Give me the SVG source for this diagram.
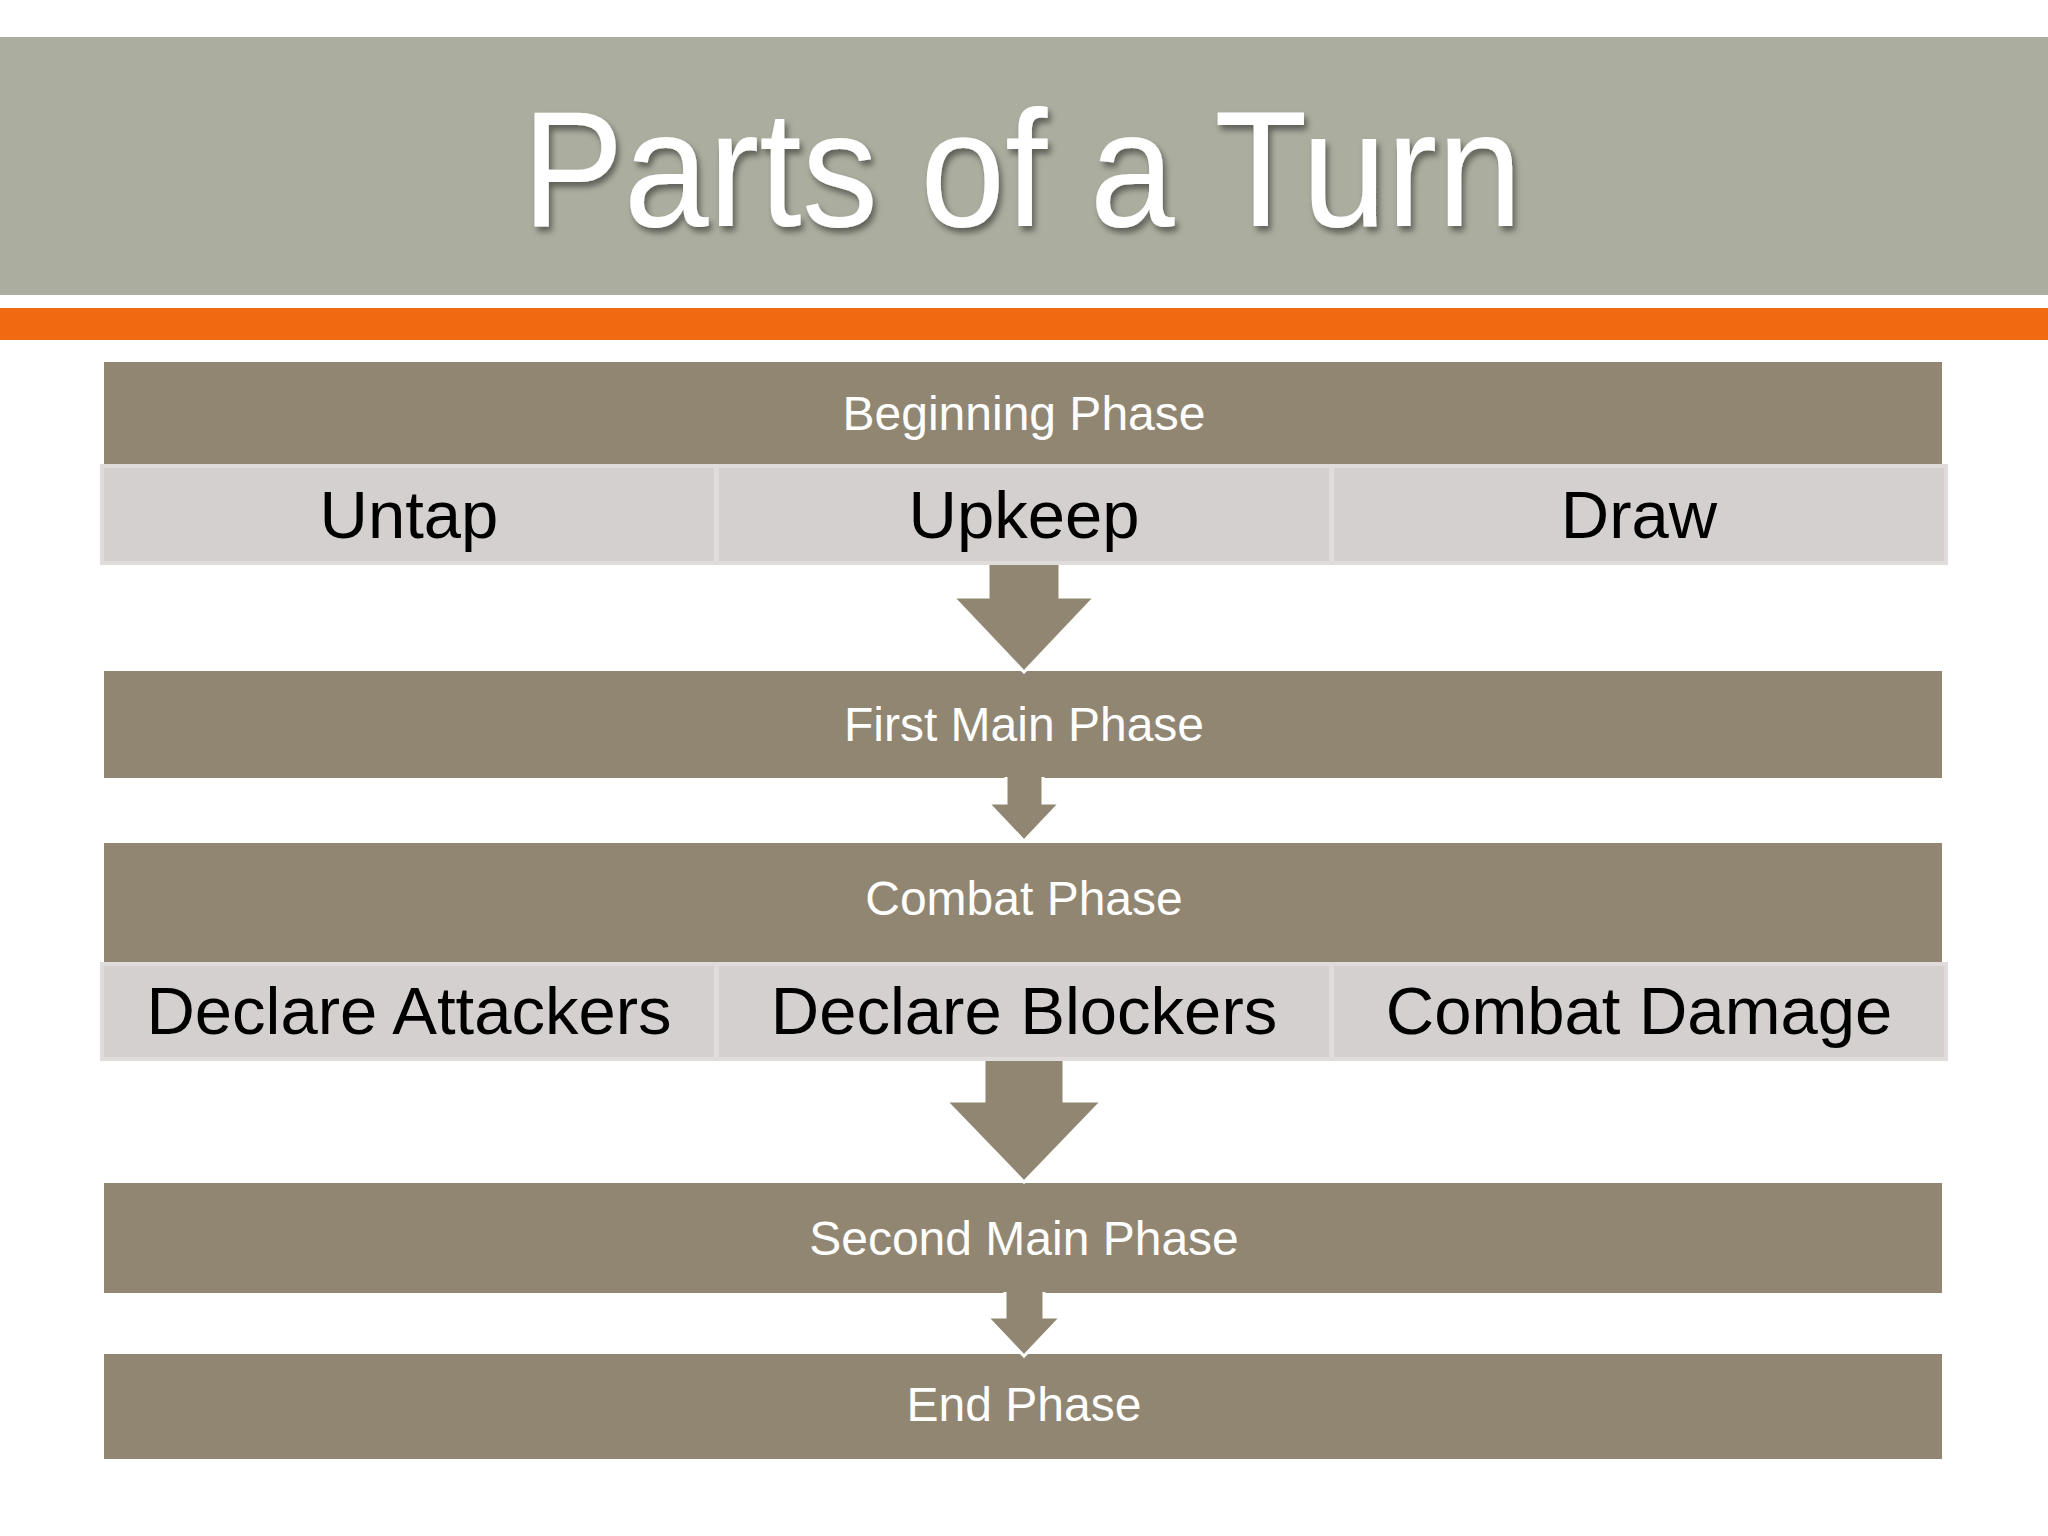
<svg xmlns="http://www.w3.org/2000/svg" width="2048" height="1536" viewBox="0 0 2048 1536">
<defs>
<filter id="sh" x="-10%" y="-10%" width="120%" height="130%">
<feDropShadow dx="3" dy="5" stdDeviation="3" flood-color="#000" flood-opacity="0.45"/>
</filter>
<style>
.phase{fill:#918672}
.cell{fill:#D4D0CF;stroke:#DFDCDB;stroke-width:4}
.pt{font-family:"Liberation Sans",Arial,sans-serif;font-size:48px;fill:#FFFFFF;text-anchor:middle}
.st{font-family:"Liberation Sans",Arial,sans-serif;font-size:67px;fill:#000000;text-anchor:middle}
.arr{fill:#918672;stroke:#FFFFFF;stroke-width:3;stroke-linejoin:miter}
</style>
</defs>
<rect width="2048" height="1536" fill="#FFFFFF"/>
<rect x="0" y="37" width="2048" height="258" fill="#ABAE9F"/>
<rect x="0" y="308" width="2048" height="32" fill="#F26A10"/>
<text x="1022" y="226" font-family="Liberation Sans,Arial,sans-serif" font-size="166" fill="#FFFFFF" text-anchor="middle" textLength="1000" lengthAdjust="spacingAndGlyphs" filter="url(#sh)">Parts of a Turn</text>

<g id="beginning">
<rect class="phase" x="104" y="362" width="1838" height="103"/>
<text class="pt" x="1024" y="430">Beginning Phase</text>
</g>
<g id="untap">
<rect class="cell" x="102" y="466" width="614" height="97"/>
<text class="st" x="409" y="538">Untap</text>
</g>
<g id="upkeep">
<rect class="cell" x="717" y="466" width="614" height="97"/>
<text class="st" x="1024" y="538">Upkeep</text>
</g>
<g id="draw">
<rect class="cell" x="1332" y="466" width="614" height="97"/>
<text class="st" x="1639" y="538">Draw</text>
</g>

<g id="firstmain">
<rect class="phase" x="104" y="671" width="1838" height="107"/>
<text class="pt" x="1024" y="741">First Main Phase</text>
</g>

<g id="combat">
<rect class="phase" x="104" y="843" width="1838" height="120"/>
<text class="pt" x="1024" y="915">Combat Phase</text>
</g>
<g id="attackers">
<rect class="cell" x="102" y="964" width="614" height="95"/>
<text class="st" x="409" y="1034">Declare Attackers</text>
</g>
<g id="blockers">
<rect class="cell" x="717" y="964" width="614" height="95"/>
<text class="st" x="1024" y="1034">Declare Blockers</text>
</g>
<g id="damage">
<rect class="cell" x="1332" y="964" width="614" height="95"/>
<text class="st" x="1639" y="1034">Combat Damage</text>
</g>

<g id="secondmain">
<rect class="phase" x="104" y="1183" width="1838" height="110"/>
<text class="pt" x="1024" y="1255">Second Main Phase</text>
</g>

<g id="end">
<rect class="phase" x="104" y="1354" width="1838" height="105"/>
<text class="pt" x="1024" y="1421">End Phase</text>
</g>

<g id="connectors">
<path class="arr" d="M988,565 V597 H953 L1024,672 L1095,597 H1060 V565"/>
<path class="arr" d="M1006,777 V803 H988 L1024,841 L1060,803 H1043 V777"/>
<path class="arr" d="M984,1061 V1101 H946 L1024,1182 L1102,1101 H1064 V1061"/>
<path class="arr" d="M1005,1292 V1317 H987 L1024,1356 L1061,1317 H1044 V1292"/>
</g>
</svg>
